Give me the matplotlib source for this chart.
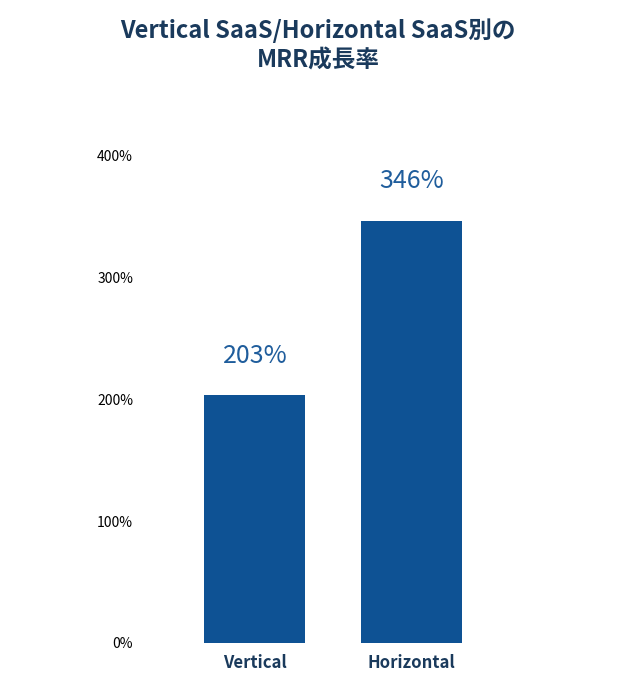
import matplotlib
matplotlib.use('Agg')
import matplotlib.pyplot as plt

categories = ['Vertical', 'Horizontal']
growth = [203, 346]
yticks = [0, 100, 200, 300, 400]

plt.rcParams['font.family'] = ['Noto Sans CJK JP', 'DejaVu Sans']

fig = plt.figure(figsize=(6.36, 6.98), dpi=100)
ax = fig.add_axes([0.2528, 0.0788, 0.5428, 0.699])

x = range(len(categories))
ax.bar(x, growth, width=0.643, color='#0e5294')
for xi, v in zip(x, growth):
    ax.text(xi, v + 22, f'{v}%', ha='center', va='bottom', fontsize=18, color='#1f5d9c')

ax.set_xlim(-0.6, 1.6)
ax.set_ylim(0, 400)
ax.set_yticks(yticks)
ax.set_yticklabels([f'{t}%' for t in yticks], fontsize=10)
ax.set_xticks(list(x))
ax.set_xticklabels(categories, fontsize=12, fontweight='bold', color='#1a3a5c')
ax.tick_params(length=0, axis='y', pad=20)
ax.tick_params(length=0, axis='x', pad=8)
for s in ax.spines.values():
    s.set_visible(False)

fig.text(0.5, 0.935, 'Vertical SaaS/Horizontal SaaS別の\nMRR成長率', ha='center', va='center',
         fontsize=17, fontweight='bold', color='#1a3a5c', linespacing=1.3)

fig.savefig('out.png', dpi=100, facecolor='white')
